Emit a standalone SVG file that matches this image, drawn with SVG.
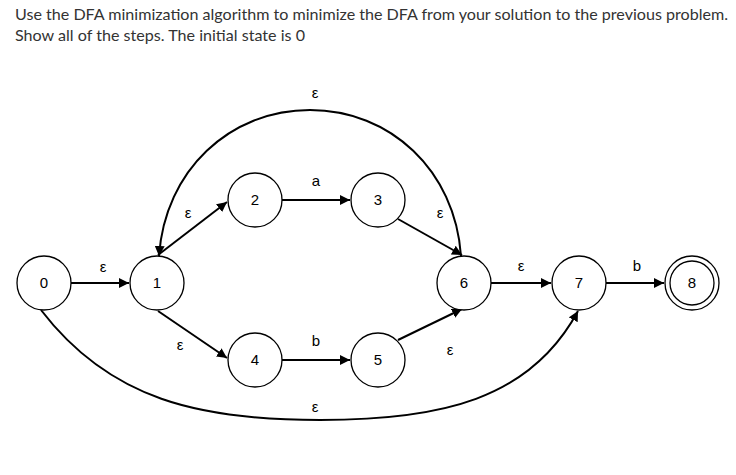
<svg xmlns="http://www.w3.org/2000/svg" width="736" height="475" viewBox="0 0 736 475">
<style>
.hd{font-family:Lato,"Open Sans",sans-serif;font-size:16px;fill:#333}
.n circle{fill:#fff;stroke:#000;stroke-width:1.3}
.n text,.l{font-family:"Liberation Sans",sans-serif;font-size:15px;text-anchor:middle;fill:#000}
.c path{fill:none;stroke:#000;stroke-width:2;marker-end:url(#ah)}
</style>
<defs><marker id="ah" viewBox="0 0 10 10" refX="10" refY="5" markerWidth="5" markerHeight="5" orient="auto" markerUnits="strokeWidth"><path d="M0,0L10,5L0,10z" fill="#000"/></marker></defs>
<rect width="736" height="475" fill="#fff"/>
<text class="hd" x="15" y="20" textLength="713" lengthAdjust="spacingAndGlyphs">Use the DFA minimization algorithm to minimize the DFA from your solution to the previous problem.</text>
<text class="hd" x="15" y="41" textLength="290" lengthAdjust="spacingAndGlyphs">Show all of the steps. The initial state is 0</text>
<g class="c">
<path d="M71,283H129"/>
<path d="M461,256C455,170 390,110 310,110C230,110 165,170 159,256"/>
<path d="M158,255L227,202"/>
<path d="M158,311L227,358"/>
<path d="M282,200H350"/>
<path d="M282,360H350"/>
<path d="M398,219L462,255"/>
<path d="M398,340L462,309"/>
<path d="M491,283H551"/>
<path d="M606,283H664"/>
<path d="M41,310C110,400 200,420 320,420C440,420 530,400 578,311"/>
</g>
<text class="l" x="315" y="98">ε</text>
<text class="l" x="103" y="272">ε</text>
<text class="l" x="188" y="218">ε</text>
<text class="l" x="180" y="350">ε</text>
<text class="l" x="316" y="186">a</text>
<text class="l" x="316" y="346">b</text>
<text class="l" x="440" y="218">ε</text>
<text class="l" x="450" y="355">ε</text>
<text class="l" x="521" y="271">ε</text>
<text class="l" x="637" y="271">b</text>
<text class="l" x="315" y="412">ε</text>
<g id="s0" class="n"><circle cx="44" cy="283" r="27"/><text x="44" y="288">0</text></g>
<g id="s1" class="n"><circle cx="157" cy="283" r="27"/><text x="157" y="288">1</text></g>
<g id="s2" class="n"><circle cx="255" cy="200" r="27"/><text x="255" y="205">2</text></g>
<g id="s3" class="n"><circle cx="378" cy="200" r="27"/><text x="378" y="205">3</text></g>
<g id="s4" class="n"><circle cx="255" cy="360" r="27"/><text x="255" y="365">4</text></g>
<g id="s5" class="n"><circle cx="378" cy="360" r="27"/><text x="378" y="365">5</text></g>
<g id="s6" class="n"><circle cx="464" cy="283" r="27"/><text x="464" y="288">6</text></g>
<g id="s7" class="n"><circle cx="579" cy="283" r="27"/><text x="579" y="288">7</text></g>
<g id="s8" class="n"><circle cx="692" cy="283" r="27"/><circle cx="692" cy="283" r="22"/><text x="692" y="288">8</text></g>
</svg>
